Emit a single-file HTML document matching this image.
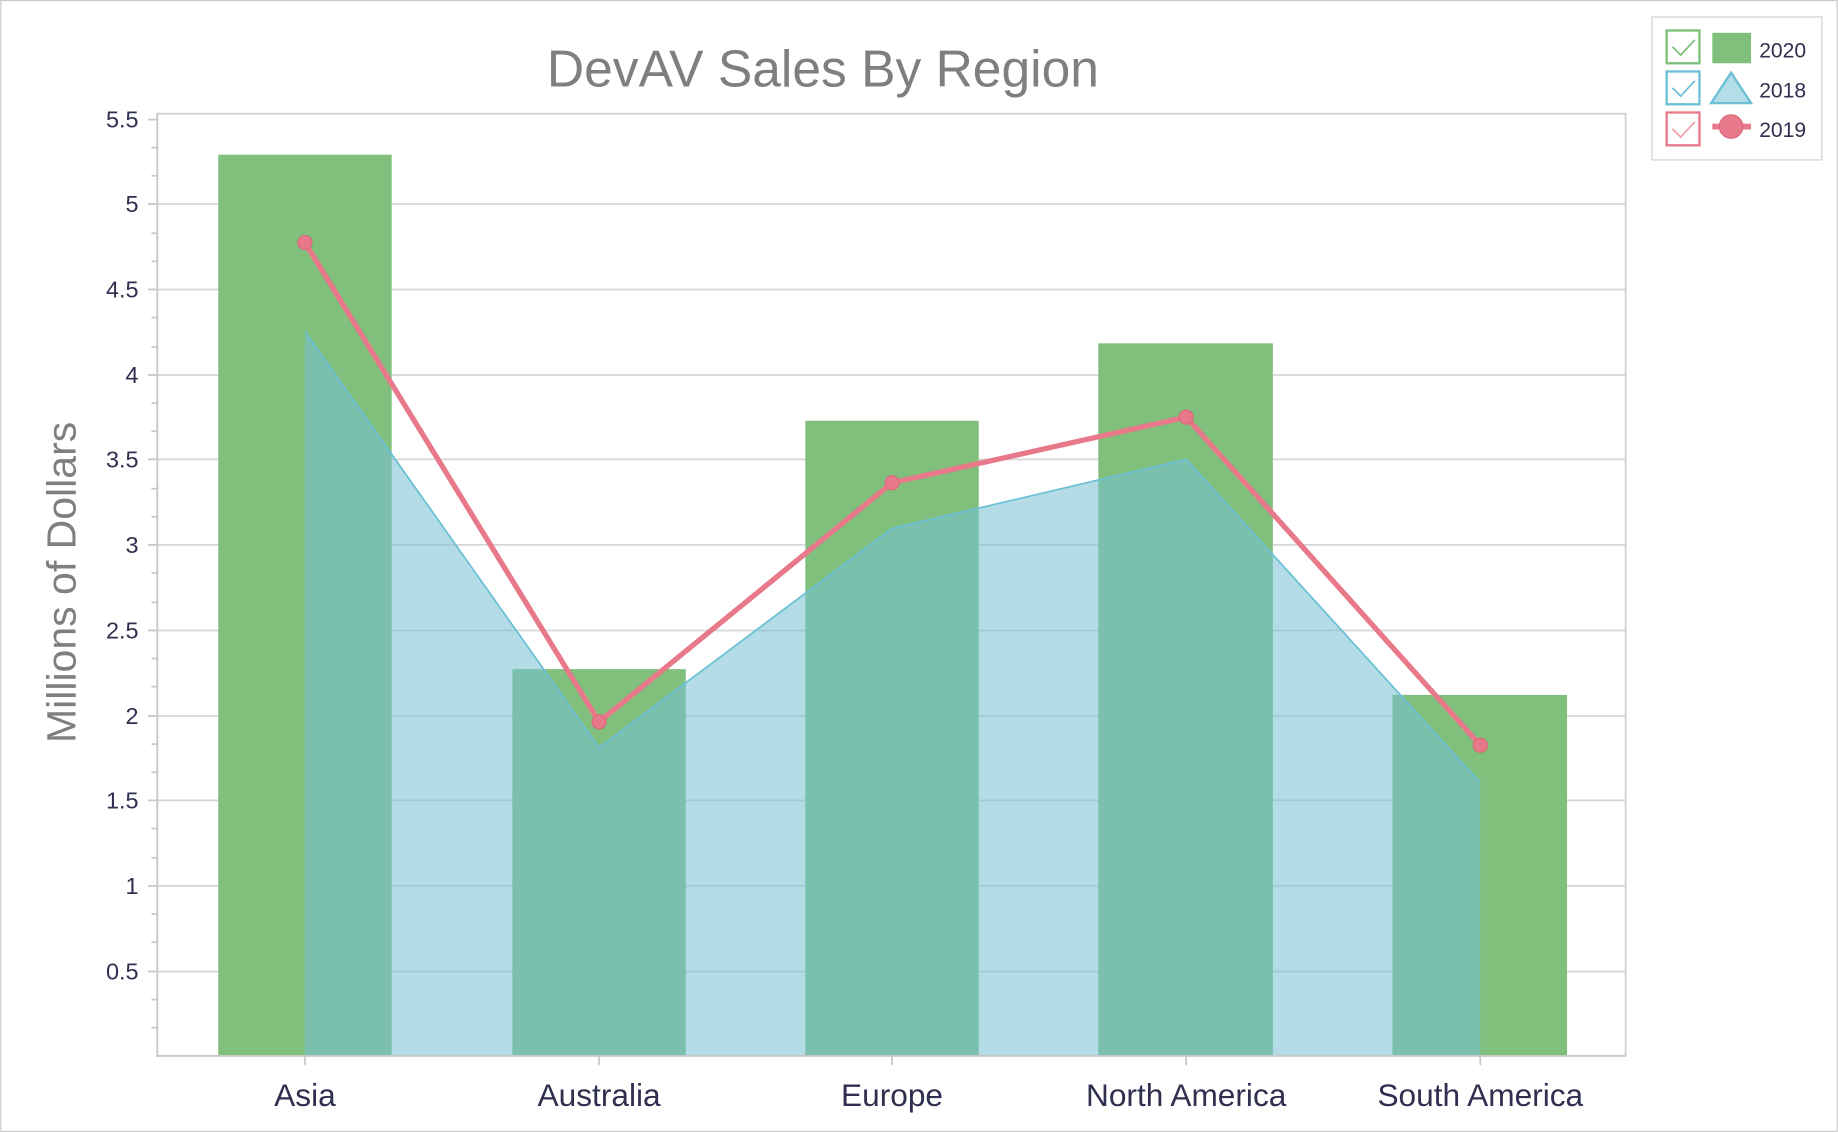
<!DOCTYPE html>
<html><head><meta charset="utf-8"><style>
html,body{margin:0;padding:0;background:#fff;}
svg{display:block;}
text{font-family:"Liberation Sans",sans-serif;}
</style></head><body>
<svg width="1838" height="1132" viewBox="0 0 1568 966" xmlns="http://www.w3.org/2000/svg">
<rect x="0.5" y="0.5" width="1567" height="965" fill="#fff" stroke="#c8c8c8"/>
<text x="702" y="74" font-size="44" fill="#7f7f7f" text-anchor="middle">DevAV Sales By Region</text>
<text transform="translate(64,497) rotate(-90)" font-size="35" fill="#7f7f7f" text-anchor="middle">Millions of Dollars</text>
<!-- grid -->
<g stroke="#d6d6d6" stroke-width="1.5">
<line x1="134" x2="1387" y1="174" y2="174"/><line x1="134" x2="1387" y1="247" y2="247"/>
<line x1="134" x2="1387" y1="320" y2="320"/><line x1="134" x2="1387" y1="392" y2="392"/>
<line x1="134" x2="1387" y1="465" y2="465"/><line x1="134" x2="1387" y1="538" y2="538"/>
<line x1="134" x2="1387" y1="611" y2="611"/><line x1="134" x2="1387" y1="683" y2="683"/>
<line x1="134" x2="1387" y1="756" y2="756"/><line x1="134" x2="1387" y1="829" y2="829"/>
</g>
<rect x="134" y="97" width="1253" height="804" fill="none" stroke="#d0d0d0" stroke-width="1.5"/>
<!-- bars -->
<g fill="#80c07c">
<rect x="186" y="132" width="148" height="769"/>
<rect x="437" y="571" width="148" height="330"/>
<rect x="687" y="359" width="148" height="542"/>
<rect x="937" y="293" width="149" height="608"/>
<rect x="1188" y="593" width="149" height="308"/>
</g>
<!-- area -->
<polygon points="260,901 260,283 511,638 761,451 1012,392 1263,668 1263,901" fill="rgb(119,192,212)" fill-opacity="0.557"/>
<polyline points="260,283 511,638 761,451 1012,392 1263,668" fill="none" stroke="#6cc0d6" stroke-width="1.5"/>
<!-- line -->
<polyline points="260,207 511,616 761,412 1012,356 1263,636" fill="none" stroke="#e8798a" stroke-width="4.5" stroke-linejoin="round"/>
<g fill="#e8798a" stroke="#d9687a" stroke-width="1">
<circle cx="260" cy="207" r="6"/><circle cx="511" cy="616" r="6"/><circle cx="761" cy="412" r="6"/><circle cx="1012" cy="356" r="6"/><circle cx="1263" cy="636" r="6"/>
</g>
<!-- axis -->
<g stroke="#c8c8c8" stroke-width="1.5">
<line x1="134" y1="97" x2="134" y2="902"/>
<line x1="133" y1="901" x2="1387" y2="901"/>
<line x1="126" x2="134" y1="102" y2="102"/><line x1="126" x2="134" y1="174" y2="174"/>
<line x1="126" x2="134" y1="247" y2="247"/><line x1="126" x2="134" y1="320" y2="320"/>
<line x1="126" x2="134" y1="392" y2="392"/><line x1="126" x2="134" y1="465" y2="465"/>
<line x1="126" x2="134" y1="538" y2="538"/><line x1="126" x2="134" y1="611" y2="611"/>
<line x1="126" x2="134" y1="683" y2="683"/><line x1="126" x2="134" y1="756" y2="756"/>
<line x1="126" x2="134" y1="829" y2="829"/>
<line x1="129" x2="134" y1="126" y2="126"/><line x1="129" x2="134" y1="150" y2="150"/>
<line x1="129" x2="134" y1="199" y2="199"/><line x1="129" x2="134" y1="223" y2="223"/>
<line x1="129" x2="134" y1="271" y2="271"/><line x1="129" x2="134" y1="296" y2="296"/>
<line x1="129" x2="134" y1="344" y2="344"/><line x1="129" x2="134" y1="368" y2="368"/>
<line x1="129" x2="134" y1="417" y2="417"/><line x1="129" x2="134" y1="441" y2="441"/>
<line x1="129" x2="134" y1="489" y2="489"/><line x1="129" x2="134" y1="514" y2="514"/>
<line x1="129" x2="134" y1="562" y2="562"/><line x1="129" x2="134" y1="586" y2="586"/>
<line x1="129" x2="134" y1="635" y2="635"/><line x1="129" x2="134" y1="659" y2="659"/>
<line x1="129" x2="134" y1="707" y2="707"/><line x1="129" x2="134" y1="732" y2="732"/>
<line x1="129" x2="134" y1="780" y2="780"/><line x1="129" x2="134" y1="804" y2="804"/>
<line x1="129" x2="134" y1="853" y2="853"/><line x1="129" x2="134" y1="877" y2="877"/>
<line x1="260" x2="260" y1="901" y2="909"/><line x1="511" x2="511" y1="901" y2="909"/>
<line x1="761" x2="761" y1="901" y2="909"/><line x1="1012" x2="1012" y1="901" y2="909"/>
<line x1="1263" x2="1263" y1="901" y2="909"/>
</g>
<g font-size="20" fill="#2f2f4f" text-anchor="end">
<text x="118" y="109">5.5</text><text x="118" y="181">5</text><text x="118" y="254">4.5</text>
<text x="118" y="327">4</text><text x="118" y="399">3.5</text><text x="118" y="472">3</text>
<text x="118" y="545">2.5</text><text x="118" y="618">2</text><text x="118" y="690">1.5</text>
<text x="118" y="763">1</text><text x="118" y="836">0.5</text>
</g>
<g font-size="27" fill="#2f2f4f" text-anchor="middle">
<text x="260" y="944">Asia</text><text x="511" y="944">Australia</text><text x="761" y="944">Europe</text>
<text x="1012" y="944">North America</text><text x="1263" y="944">South America</text>
</g>
<!-- legend -->
<rect x="1409.5" y="14.5" width="145" height="122" fill="#fff" stroke="#d0d0d0"/>
<rect x="1422" y="26" width="28" height="28" fill="none" stroke="#80c07c" stroke-width="2"/>
<polyline points="1427,40 1434,47 1446,34" fill="none" stroke="#80c07c" stroke-width="1.5"/>
<rect x="1461" y="28" width="33" height="26" fill="#80c07c"/>
<text x="1501" y="49" font-size="18" fill="#2f2f4f">2020</text>
<rect x="1422" y="61" width="28" height="28" fill="none" stroke="#6cc0d6" stroke-width="2"/>
<polyline points="1427,75 1434,82 1446,69" fill="none" stroke="#6cc0d6" stroke-width="1.5"/>
<polygon points="1477,62 1460,88 1494,88" fill="#b3dde7" stroke="#6cc0d6" stroke-width="2"/>
<text x="1501" y="83" font-size="18" fill="#2f2f4f">2018</text>
<rect x="1422" y="96" width="28" height="28" fill="none" stroke="#e8798a" stroke-width="2"/>
<polyline points="1427,110 1434,117 1446,104" fill="none" stroke="#f0a0aa" stroke-width="1.5"/>
<line x1="1461" x2="1494" y1="108" y2="108" stroke="#e8798a" stroke-width="5"/>
<circle cx="1477" cy="108" r="10" fill="#e8798a" stroke="#d9687a"/>
<text x="1501" y="117" font-size="18" fill="#2f2f4f">2019</text>
</svg>
</body></html>
